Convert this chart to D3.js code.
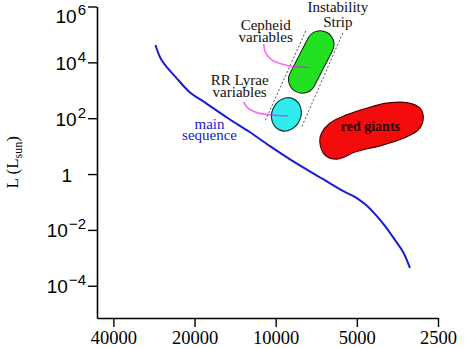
<!DOCTYPE html>
<html><head><meta charset="utf-8">
<script src="https://cdn.jsdelivr.net/npm/d3@7"></script>
<style>
html,body{margin:0;padding:0;background:#fff;}
svg{display:block;font-family:"Liberation Serif","Times New Roman",serif;}
</style></head><body>
<svg id="chart" width="474" height="348"></svg>
<script>
// Axis ticks: effective temperature (K) and luminosity (L_sun)
const tempTicks = [40000, 20000, 10000, 5000, 2500];
const lumTicks = [1e-4, 1e-2, 1, 1e2, 1e4, 1e6];
const tempDomain = [46000, 2500];
const lumDomain = [7e-6, 1e6];

// Main sequence track
const msTemp = [27920, 26760, 25200, 23530, 20880, 18200, 15080, 12490, 10530, 8430, 6690, 5635, 4957, 4630, 4287, 3933, 3613, 3373, 3177];
const msLum = [4.2e4, 1.44e4, 6300, 3000, 870, 352, 102, 32, 10.2, 2.5, 0.67, 0.25, 0.13, 0.079, 0.0377, 0.014, 0.0044, 0.00165, 0.00044];

// Instability strip edges (upper end, lower end)
const stripHotTemp = [7737, 10986];
const stripHotLum = [1.33e5, 73.7];
const stripCoolTemp = [5635, 8005];
const stripCoolLum = [1.13e5, 48.9];

// Cepheid band (upper end, lower end of its axis)
const cepheidTemp = [6834, 7971];
const cepheidLum = [4.37e4, 2445];

// RR Lyrae clump centre
const rrLyraeTemp = [9126];
const rrLyraeLum = [137];

// Red giant region outline
const rgTemp = [6861, 6762, 6300, 5461, 4603, 3876, 3268, 2916, 2835, 2959, 3364, 4107, 5013, 5952, 6576];
const rgLum = [14.6, 29, 66, 131, 228, 344, 361, 228, 100, 38, 19.2, 10.2, 6.4, 3.4, 4.9];

// Pointer curves from the variable-star labels
const cepheidPointerTemp = [11080, 10893, 10346, 9500, 8647, 7540];
const cepheidPointerLum = [4.55e4, 2.17e4, 1.22e4, 8770, 7130, 6570];
const rrPointerTemp = [13150, 12707, 11665, 10346, 9025];
const rrPointerLum = [383, 234, 155, 131, 121];

// Region labels (anchored at the first line's baseline centre)
const labelLines = [["Instability", "Strip"], ["Cepheid", "variables"], ["RR Lyrae", "variables"], ["main", "sequence"], ["red giants"]];
const labelTemp = [5882, 10893, 13605, 17590, 4454];
const labelLum = [6.5e5, 1.44e5, 1560, 40.4, 36];

// ---- layout & style ----
const W = 474, H = 348;
const plot = {left: 97, right: 438, top: 6.5, bottom: 318};
const labelLeading = [15, 12, 12, 11, 0];
const labelColor = ["#111", "#111", "#111", "#1a1ad0", "#2a0000"];
const labelSize = [15, 15, 15, 15, 14];
const labelWeight = ["normal", "normal", "normal", "normal", "bold"];

const svg = d3.select("#chart");
svg.append("rect").attr("width", W).attr("height", H).attr("fill", "#fff");

const x = d3.scaleLog().domain(tempDomain).range([plot.left, plot.right]);
const y = d3.scaleLog().domain(lumDomain).range([plot.bottom, plot.top]);

const pts = (ts, ls) => ts.map((t, i) => [x(t), y(ls[i])]);

// Instability strip boundaries
[[stripHotTemp, stripHotLum], [stripCoolTemp, stripCoolLum]].forEach(([ts, ls]) => {
  svg.append("path")
    .attr("d", d3.line()(pts(ts, ls)))
    .attr("fill", "none").attr("stroke", "#555").attr("stroke-width", 1)
    .attr("stroke-dasharray", "2,2");
});

// Cepheid band: rounded capsule with dark outline
const cep = pts(cepheidTemp, cepheidLum);
svg.append("path").attr("d", d3.line()(cep))
  .attr("stroke", "#102010").attr("stroke-width", 28.5).attr("stroke-linecap", "round");
svg.append("path").attr("d", d3.line()(cep))
  .attr("stroke", "#22e022").attr("stroke-width", 26.5).attr("stroke-linecap", "round");

// RR Lyrae clump
const rr = pts(rrLyraeTemp, rrLyraeLum)[0];
svg.append("ellipse")
  .attr("cx", rr[0]).attr("cy", rr[1]).attr("rx", 14.5).attr("ry", 17)
  .attr("transform", `rotate(24,${rr[0]},${rr[1]})`)
  .attr("fill", "#30ecec").attr("stroke", "#0b3a3a").attr("stroke-width", 1.2);

// Red giants
svg.append("path")
  .attr("d", d3.line().curve(d3.curveCatmullRomClosed)(pts(rgTemp, rgLum)))
  .attr("fill", "#f40c0c").attr("stroke", "#4a0000").attr("stroke-width", 1.2);

// Main sequence
svg.append("path")
  .attr("d", d3.line().curve(d3.curveCatmullRom)(pts(msTemp, msLum)))
  .attr("fill", "none").attr("stroke", "#1a1ad8").attr("stroke-width", 2);

// Pointer curves
[[cepheidPointerTemp, cepheidPointerLum], [rrPointerTemp, rrPointerLum]].forEach(([ts, ls]) => {
  svg.append("path")
    .attr("d", d3.line().curve(d3.curveCatmullRom)(pts(ts, ls)))
    .attr("fill", "none").attr("stroke", "#ff00ff").attr("stroke-opacity", 0.6)
    .attr("stroke-width", 1.6);
});

// Region labels, one text element per line
labelLines.forEach((lines, i) => {
  lines.forEach((s, j) => {
    svg.append("text")
      .attr("x", x(labelTemp[i]))
      .attr("y", y(labelLum[i]) + j * labelLeading[i])
      .attr("text-anchor", "middle")
      .attr("font-size", labelSize[i]).attr("font-weight", labelWeight[i])
      .attr("fill", labelColor[i])
      .text(s);
  });
});

// Axes
const xAxis = d3.axisBottom(x).tickValues(tempTicks).tickSize(9).tickSizeOuter(0)
  .tickPadding(4).tickFormat(d3.format("d"));
const gx = svg.append("g").attr("transform", `translate(0,${plot.bottom})`).call(xAxis);
gx.selectAll("text").attr("font-size", 18.5).attr("font-family", "Liberation Serif").attr("fill", "#000");

const yAxis = d3.axisLeft(y).tickValues(lumTicks).tickSize(9).tickSizeOuter(0).tickFormat(() => "");
const gy = svg.append("g").attr("transform", `translate(${plot.left},0)`).call(yAxis);
gy.selectAll(".tick text").remove();
gy.selectAll(".tick").each(function(d) {
  const e = Math.round(Math.log10(d));
  const base = Math.max(7, 22 - y(d));
  const t = d3.select(this).append("text")
    .attr("y", base).attr("font-size", 19).attr("fill", "#000")
    .attr("text-anchor", "end");
  if (e === 0) {
    t.attr("x", -25).text("1");
  } else {
    t.attr("x", -11);
    t.append("tspan").text("10");
    t.append("tspan").attr("dx", 1).attr("dy", -8).attr("font-size", 15)
      .text(e < 0 ? "\u2212" + (-e) : String(e));
  }
});

[gx, gy].forEach(g => {
  g.select(".domain").attr("stroke", "#000").attr("stroke-width", 1.6);
  g.selectAll(".tick line").attr("stroke", "#000").attr("stroke-width", 1.4);
});

// Luminosity axis title
const yt = svg.append("text")
  .attr("transform", `translate(18,${(plot.top + plot.bottom) / 2}) rotate(-90)`)
  .attr("text-anchor", "middle").attr("font-size", 17).attr("fill", "#000");
yt.append("tspan").text("L (L");
yt.append("tspan").attr("dy", 4).attr("font-size", 12).text("sun");
yt.append("tspan").attr("dy", -4).text(")");
</script>
</body></html>
